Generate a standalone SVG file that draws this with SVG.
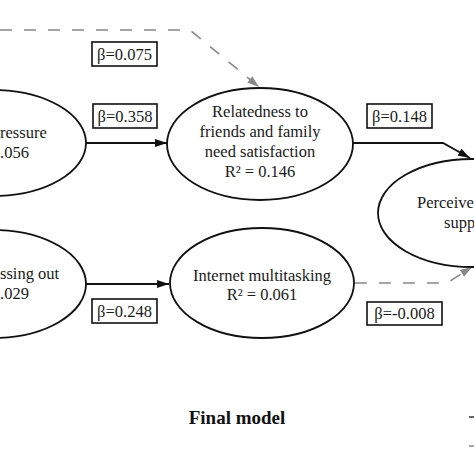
<svg xmlns="http://www.w3.org/2000/svg" width="474" height="474" viewBox="0 0 474 474">
<style>
.node{fill:#fff;stroke:#111;stroke-width:1.8}
.t{font-family:"Liberation Serif","Times New Roman",serif;font-size:16.5px;fill:#1a1a1a}
.c{text-anchor:middle}
.box{fill:#fff;stroke:#111;stroke-width:1.6}
.bt{font-family:"Liberation Serif","Times New Roman",serif;font-size:16.5px;fill:#1a1a1a;text-anchor:middle}
.solid{fill:none;stroke:#111;stroke-width:1.8}
.dash{fill:none;stroke:#888;stroke-width:1.6;stroke-dasharray:12 12}
</style>
<defs>
<marker id="ah" viewBox="0 0 12 8" refX="12" refY="4" markerWidth="12" markerHeight="8" markerUnits="userSpaceOnUse" orient="auto"><path d="M0,0 L12,4 L0,8 Z" fill="#111"/></marker>
<marker id="ahg" viewBox="0 0 12 8" refX="12" refY="4" markerWidth="12" markerHeight="8" markerUnits="userSpaceOnUse" orient="auto"><path d="M0,0 L12,4 L0,8 Z" fill="#888"/></marker>
</defs>
<rect width="474" height="474" fill="#fff"/>
<g id="connectors">
<path class="dash" d="M0,30 L190,30 L259,87" marker-end="url(#ahg)"/>
<path class="solid" d="M86,143 L167,143" marker-end="url(#ah)"/>
<path class="solid" d="M353,143 L443,143 L470,158" marker-end="url(#ah)"/>
<path class="solid" d="M86,284 L169,284" marker-end="url(#ah)"/>
<path class="dash" d="M355,283 L447,283 L472,267" marker-end="url(#ahg)"/>
</g>
<g id="node-pressure">
<ellipse class="node" cx="-7" cy="143" rx="93" ry="53"/>
<text class="t" x="0" y="138">ressure</text>
<text class="t" x="0" y="158">.056</text>
</g>
<g id="node-missing">
<ellipse class="node" cx="-7" cy="284" rx="93" ry="54"/>
<text class="t" x="0" y="279">ssing out</text>
<text class="t" x="0" y="299">.029</text>
</g>
<g id="node-relatedness">
<ellipse class="node" cx="260" cy="144" rx="93" ry="56"/>
<text class="t c" x="260" y="117">Relatedness to</text>
<text class="t c" x="260" y="137">friends and family</text>
<text class="t c" x="260" y="157">need satisfaction</text>
<text class="t c" x="260" y="177">R² = 0.146</text>
</g>
<g id="node-internet">
<ellipse class="node" cx="262" cy="283" rx="92" ry="55"/>
<text class="t c" x="262" y="281">Internet multitasking</text>
<text class="t c" x="262" y="300">R² = 0.061</text>
</g>
<g id="node-perceived">
<ellipse class="node" cx="472" cy="213" rx="94" ry="54"/>
<text class="t" x="417" y="208">Perceive</text>
<text class="t" x="444" y="228">supp</text>
</g>
<g id="labels">
<rect class="box" x="92" y="42" width="65" height="24"/>
<text class="bt" x="124.5" y="60">β=0.075</text>
<rect class="box" x="93" y="104" width="64" height="24"/>
<text class="bt" x="125" y="122">β=0.358</text>
<rect class="box" x="367" y="104" width="65" height="24"/>
<text class="bt" x="399.5" y="122">β=0.148</text>
<rect class="box" x="92" y="299" width="65" height="24"/>
<text class="bt" x="124.5" y="317">β=0.248</text>
<rect class="box" x="367" y="302" width="75" height="23"/>
<text class="bt" x="404.5" y="319">β=-0.008</text>
</g>
<text x="237" y="424" font-family="Liberation Serif,Times New Roman,serif" font-size="19" font-weight="bold" text-anchor="middle" fill="#111">Final model</text>
<line x1="469" y1="417" x2="474" y2="417" stroke="#333" stroke-width="1.5"/>
<line x1="469" y1="446" x2="474" y2="446" stroke="#888" stroke-width="1.5"/>
</svg>
